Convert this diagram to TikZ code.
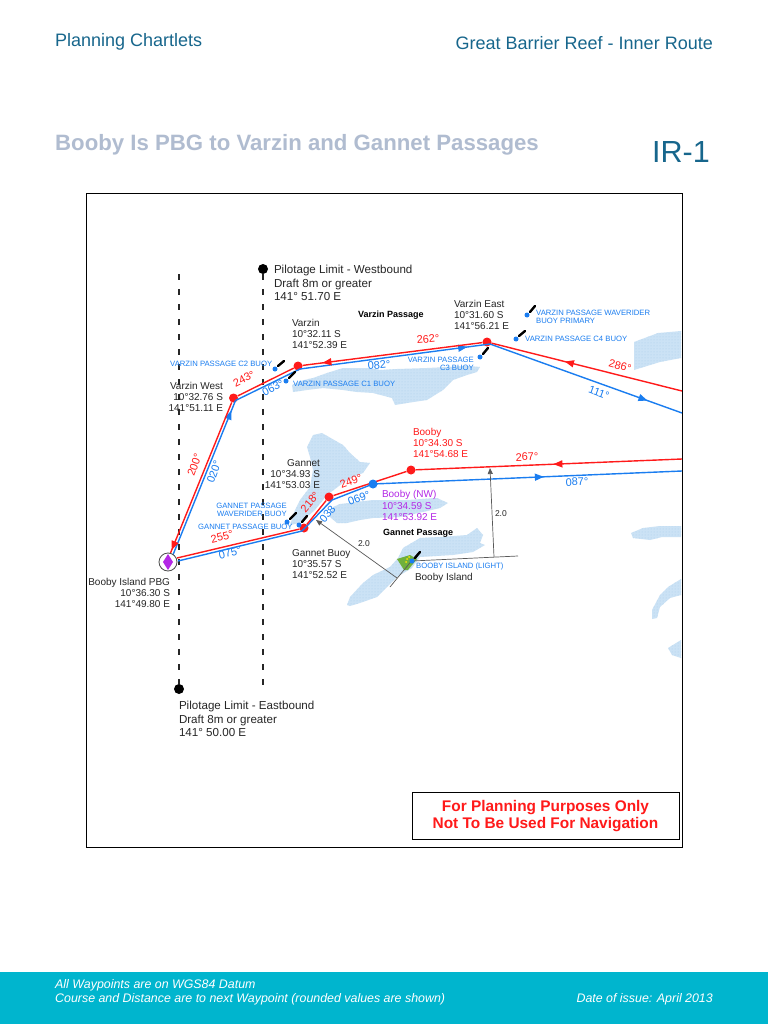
\documentclass[tikz,border=0pt]{standalone}
\usepackage{fontspec}
\setmainfont{Liberation Sans}
\usetikzlibrary{arrows.meta,decorations.markings,patterns}
\definecolor{hdr}{HTML}{17668C}
\definecolor{ttl}{HTML}{B0BCD0}
\definecolor{band}{HTML}{00B5CE}
\definecolor{rt}{HTML}{FF1A1A}
\definecolor{bt}{HTML}{1A7DF0}
\definecolor{pu}{HTML}{B428E6}
\definecolor{isl}{HTML}{CBE2F5}
\definecolor{isd}{HTML}{A9CDEB}
\definecolor{lightgrn}{HTML}{6FB03C}
\tikzset{
  x=1pt,y=-1pt,
  lbl/.style={inner sep=0pt,outer sep=0pt,font=\fontsize{10}{11.4}\selectfont,align=left,anchor=west,text=black!85},
  lblr/.style={lbl,align=right,anchor=east},
  blab/.style={inner sep=0pt,font=\fontsize{7.7}{8.2}\selectfont,text=bt,align=left,anchor=west},
  blabr/.style={blab,align=right,anchor=east},
  blim/.style={lbl,font=\fontsize{11.6}{13.2}\selectfont},
  bold9/.style={lbl,font=\fontsize{9}{10}\selectfont\bfseries,text=black},
  crs/.style={inner sep=0pt,font=\fontsize{11}{12}\selectfont},
  rcrs/.style={crs,text=rt},
  bcrs/.style={crs,text=bt},
  island/.style={draw=none,fill=isl,postaction={pattern=dots,pattern color=isd}},
  rtrack/.style={draw=rt,line width=1.4pt},
  btrack/.style={draw=bt,line width=1.4pt},
  arrowat/.style={postaction={decorate,decoration={markings,mark=at position #1 with {\arrow{Triangle[length=9pt,width=7pt]}}}}},
  wp/.style={circle,fill=rt,inner sep=0pt,minimum size=9pt},
  wpb/.style={circle,fill=bt,inner sep=0pt,minimum size=9pt},
  limdot/.style={circle,fill=black,inner sep=0pt,minimum size=10pt},
  limline/.style={draw=black!85,line width=1.2pt,dash pattern=on 6pt off 9pt},
  bdot/.style={circle,fill=bt,inner sep=0pt,minimum size=5pt},
  spar/.style={draw=black,line width=2.4pt,line cap=round},
  dimln/.style={draw=black!65,line width=0.7pt},
}
\begin{document}
\begin{tikzpicture}
\useasboundingbox (0,0) rectangle (768,1024);
\fill[white] (0,0) rectangle (768,1024);
% header
\node[inner sep=0pt,anchor=west,text=hdr,font=\fontsize{18}{20}\selectfont] (h1) at (55,42) {Planning Chartlets};
\node[inner sep=0pt,anchor=east,text=hdr,font=\fontsize{18}{20}\selectfont] (h2) at (713,43) {Great Barrier Reef - Inner Route};
\node[inner sep=0pt,anchor=west,text=ttl,font=\fontsize{22.2}{26}\selectfont\bfseries] (h3) at (55,145) {Booby Is PBG to Varzin and Gannet Passages};
\node[inner sep=0pt,anchor=east,text=hdr,font=\fontsize{30.5}{36}\selectfont] (h4) at (710,152) {IR-1};
% footer
\fill[band] (0,972) rectangle (768,1024);
\node[inner sep=0pt,anchor=west,text=white,font=\fontsize{12.4}{14}\selectfont\itshape] (f1) at (55,985.5) {All Waypoints are on WGS84 Datum};
\node[inner sep=0pt,anchor=west,text=white,font=\fontsize{12.4}{14}\selectfont\itshape] (f2) at (55,999) {Course and Distance are to next Waypoint (rounded values are shown)};
\node[inner sep=0pt,anchor=east,text=white,font=\fontsize{12.4}{14}\selectfont\itshape] (f3) at (713,999) {Date of issue: April 2013};
% islands
\path[island] (292,385)--(300,381)--(313,378)--(327,373)--(343,368)--(370,368)--(380,370)--(397,369)--(427,368)--(447,367)--(467,366)--(480,367)--(477,372)--(467,375)--(453,380)--(443,390)--(427,400)--(407,403)--(395,405)--(392,398)--(373,393)--(357,392)--(343,390)--(323,388)--(307,390)--(293,392)--cycle;
\path[island] (313,435)--(322,433)--(343,445)--(350,453)--(360,462)--(370,463)--(363,473)--(353,477)--(343,483)--(327,495)--(315,510)--(300,523)--(290,525)--(295,510)--(300,500)--(310,487)--(313,470)--(310,457)--(307,447)--cycle;
\path[island] (333,507)--(340,504)--(373,500)--(407,500)--(437,498)--(448,503)--(440,508)--(423,512)--(400,517)--(373,518)--(360,520)--(347,523)--(337,523)--(330,517)--cycle;
\path[island] (347,605)--(350,597)--(363,583)--(373,575)--(390,567)--(398,558)--(403,548)--(420,538)--(440,537)--(467,535)--(477,528)--(483,535)--(480,543)--(485,545)--(473,552)--(453,555)--(420,557)--(412,568)--(397,577)--(377,597)--(360,603)--(350,606)--cycle;
\path[island] (634,342)--(658,333)--(681,331)--(681,358)--(660,362)--(634,370)--cycle;
\path[island] (631,533)--(643,528)--(660,526)--(681,526)--(681,537)--(662,537)--(650,540)--(633,538)--cycle;
\path[island] (681,579)--(668,587)--(660,595)--(652,610)--(652,619)--(657,618)--(660,607)--(670,598)--(681,595)--cycle;
\path[island] (681,640)--(668,648)--(672,655)--(681,658)--cycle;
\fill[lightgrn] (397,559)--(410,555)--(417,559)--(408,570)--(404,570)--cycle;
% frame
\draw[black,line width=1pt] (86,194) rectangle (682,847);
% limits
\node[limdot] (lw) at (263,269) {};
\node[limdot] (le) at (179,689) {};
\coordinate (lwe) at (263,690);
\coordinate (lee) at (179,274);
\draw[limline] (lw) -- (lwe);
\draw[limline] (lee) -- (le);
% off-chart and offset track points
\coordinate (r286) at (682,391);
\coordinate (b111) at (682,413);
\coordinate (r267) at (682,459);
\coordinate (b087) at (682,471);
\coordinate (rp) at (170.5,553);
\coordinate (rp2) at (177,558);
\coordinate (bp) at (172.5,556);
\coordinate (bp2) at (178,561);
\coordinate (bw) at (235.5,400.5);
\coordinate (bv) at (300,369);
\coordinate (be) at (490,344);
\coordinate (bg) at (302,531);
\coordinate (bn) at (332,500);
\coordinate (nwc) at (373,484);
% waypoints
\node[wp] (vw) at (233.5,398) {};
\node[wp] (va) at (298,366) {};
\node[wp] (ve) at (487,342) {};
\node[wp] (gb) at (304,528) {};
\node[wp] (ga) at (329,497) {};
\node[wp] (bo) at (411,470) {};
% tracks
\draw[btrack,arrowat=0.88] (bv) -- (be);
\draw[btrack,arrowat=0.82] (be) -- (b111);
\draw[btrack] (bw) -- (bv);
\draw[btrack,arrowat=0.935] (bp) -- (bw);
\draw[btrack] (bp2) -- (bg) -- (bn) -- (nwc);
\draw[btrack,arrowat=0.553] (nwc) -- (b087);
\draw[rtrack,arrowat=0.615] (r286) -- (ve);
\draw[rtrack,arrowat=0.89] (ve) -- (va);
\draw[rtrack] (va) -- (vw);
\draw[rtrack,arrowat=0.98] (vw) -- (rp);
\draw[rtrack] (gb) -- (rp2);
\draw[rtrack] (gb) -- (ga) -- (bo);
\draw[rtrack,arrowat=0.483] (r267) -- (bo);
\node[wpb] (nw) at (nwc) {};
% PBG
\node[circle,draw=black!70,fill=white,line width=0.8pt,minimum size=18pt,inner sep=0pt] (pbg) at (168,562) {};
\fill[pu] (168,554)--(173,562)--(168,570)--(163,562)--cycle;
% distance lines
\coordinate (da) at (316,520);
\coordinate (db) at (397,578);
\coordinate (dc) at (390,587);
\coordinate (dd) at (418,553);
\coordinate (de) at (490,468);
\coordinate (df) at (494,557);
\coordinate (dg) at (412,561);
\coordinate (dh) at (518,556);
\draw[dimln,{Triangle[length=6pt,width=5pt]}-] (da) -- (db);
\draw[dimln] (dc) -- (dd);
\draw[dimln,{Triangle[length=6pt,width=5pt]}-] (de) -- (df);
\draw[dimln] (dg) -- (dh);
% buoys
\foreach \nm/\ax/\ay/\bx/\by in {c2/275/369/284/361,c1/286/381/295/372,c3/480/357/488/348,c4/516/339/525/331,wr/527/315/535/306,gw/287/522/296/513,gp/299/525/307/516,bl/412/561/420/552}{
  \coordinate (\nm top) at (\bx,\by);
  \coordinate (\nm foot) at ({\ax+3},{\ay-3});
  \draw[spar] (\nm foot) -- (\nm top);
  \node[bdot] (\nm) at (\ax,\ay) {};
}
\fill[yellow!90!orange] (407,559) circle (1pt) (409,557) circle (1pt) (406,562) circle (1pt);
% waypoint labels
\node[blim] (tw) at (274,283) {Pilotage Limit - Westbound\\Draft 8m or greater\\141° 51.70 E};
\node[blim] (te) at (179,719) {Pilotage Limit - Eastbound\\Draft 8m or greater\\141° 50.00 E};
\node[lbl] (tva) at (292,334) {Varzin\\10°32.11 S\\141°52.39 E};
\node[lblr] (tvw) at (223,397) {Varzin West\\10°32.76 S\\141°51.11 E};
\node[lbl] (tve) at (454,315) {Varzin East\\10°31.60 S\\141°56.21 E};
\node[lblr] (tga) at (320,474) {Gannet\\10°34.93 S\\141°53.03 E};
\node[lbl] (tgb) at (292,564) {Gannet Buoy\\10°35.57 S\\141°52.52 E};
\node[lblr] (tpb) at (170,593) {Booby Island PBG\\10°36.30 S\\141°49.80 E};
\node[lbl,text=rt] (tbo) at (413,443) {Booby\\10°34.30 S\\141°54.68 E};
\node[lbl,text=pu] (tnw) at (382,505.5) {Booby (NW)\\10°34.59 S\\141°53.92 E};
\node[lbl] (tbi) at (415,578) {Booby Island};
\node[bold9] (tvp) at (358,315) {Varzin Passage};
\node[bold9] (tgp) at (383,533) {Gannet Passage};
\node[lbl,font=\fontsize{8.5}{10}\selectfont] (d1) at (358,544) {2.0};
\node[lbl,font=\fontsize{8.5}{10}\selectfont] (d2) at (495,514) {2.0};
% buoy labels
\node[blab] (lc2) at (170,364) {VARZIN PASSAGE C2 BUOY};
\node[blab] (lc1) at (293,384) {VARZIN PASSAGE C1 BUOY};
\node[blabr] (lc3) at (474,364) {VARZIN PASSAGE\\C3 BUOY};
\node[blab] (lc4) at (525,339) {VARZIN PASSAGE C4 BUOY};
\node[blab] (lwr) at (536,317) {VARZIN PASSAGE WAVERIDER\\BUOY PRIMARY};
\node[blabr] (lgw) at (287,510) {GANNET PASSAGE\\WAVERIDER BUOY};
\node[blab] (lgp) at (198,527) {GANNET PASSAGE BUOY};
\node[blab] (lbl) at (416,567) {BOOBY ISLAND (LIGHT)};
% courses
\node[rcrs,rotate=70] (c200) at (194.5,465) {200°};
\node[bcrs,rotate=70] (c020) at (214,472) {020°};
\node[rcrs,rotate=14] (c255) at (222,537) {255°};
\node[bcrs,rotate=14] (c075) at (230,553) {075°};
\node[rcrs,rotate=50] (c218) at (310,502) {218°};
\node[bcrs,rotate=50] (c038) at (327.5,514) {038};
\node[rcrs,rotate=20] (c249) at (351,481) {249°};
\node[bcrs,rotate=20] (c069) at (359,498) {069°};
\node[rcrs,rotate=27] (c243) at (244,379) {243°};
\node[bcrs,rotate=27] (c063) at (273,388) {063°};
\node[bcrs,rotate=5] (c082) at (379,365) {082°};
\node[rcrs,rotate=5] (c262) at (428,339) {262°};
\node[rcrs,rotate=-15] (c286) at (620,366) {286°};
\node[bcrs,rotate=-20] (c111) at (599,393) {111°};
\node[rcrs,rotate=2] (c267) at (527,457) {267°};
\node[bcrs,rotate=2] (c087) at (577,482) {087°};
% note
\node[draw=black,fill=white,line width=1pt,minimum width=267pt,minimum height=46.5pt,inner sep=0pt,align=center,text=rt,font=\fontsize{15.4}{17.5}\selectfont\bfseries] (note) at (545.5,816.2) {For Planning Purposes Only\\Not To Be Used For Navigation};
\end{tikzpicture}
\end{document}
